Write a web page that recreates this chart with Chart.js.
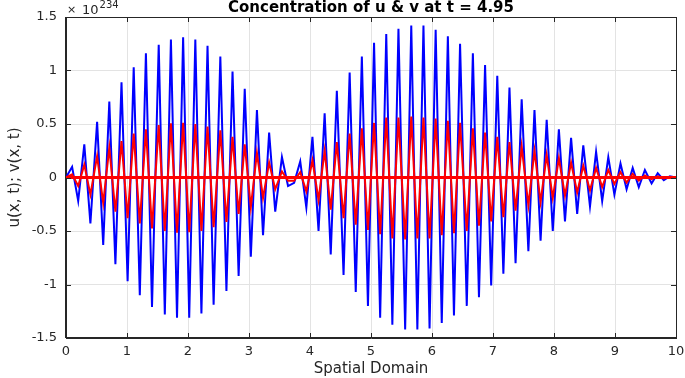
<!DOCTYPE html>
<html><head><meta charset="utf-8">
<script src="https://cdn.jsdelivr.net/npm/chart.js@4.4.1/dist/chart.umd.min.js"></script>
<style>html,body{margin:0;padding:0;background:#fff;}canvas{display:block;}</style>
</head><body>
<canvas id="c" width="685" height="378"></canvas>
<script>
const xValues = [0,0.10,0.20,0.30,0.40,0.51,0.61,0.71,0.81,0.91,1.01,1.11,1.21,1.31,1.41,1.52,1.62,1.72,1.82,1.92,2.02,2.12,2.22,2.32,2.42,2.53,2.63,2.73,2.83,2.93,3.03,3.13,3.23,3.33,3.43,3.54,3.64,3.74,3.84,3.94,4.04,4.14,4.24,4.34,4.44,4.55,4.65,4.75,4.85,4.95,5.05,5.15,5.25,5.35,5.45,5.56,5.66,5.76,5.86,5.96,6.06,6.16,6.26,6.36,6.46,6.57,6.67,6.77,6.87,6.97,7.07,7.17,7.27,7.37,7.47,7.58,7.68,7.78,7.88,7.98,8.08,8.18,8.28,8.38,8.48,8.59,8.69,8.79,8.89,8.99,9.09,9.19,9.29,9.39,9.49,9.60,9.70,9.80,9.90,10];
const uValues = [0,0.10,-0.22,0.31,-0.43,0.52,-0.63,0.71,-0.81,0.89,-0.97,1.03,-1.10,1.16,-1.21,1.24,-1.28,1.29,-1.31,1.31,-1.31,1.29,-1.27,1.23,-1.19,1.13,-1.06,0.99,-0.92,0.83,-0.74,0.63,-0.54,0.42,-0.32,0.19,-0.08,-0.05,0.15,-0.28,0.38,-0.50,0.60,-0.72,0.81,-0.91,0.98,-1.07,1.13,-1.20,1.26,-1.31,1.34,-1.375,1.39,-1.42,1.42,-1.42,1.42,-1.41,1.38,-1.36,1.32,-1.29,1.25,-1.20,1.16,-1.12,1.05,-1.01,0.95,-0.90,0.84,-0.80,0.73,-0.69,0.63,-0.59,0.54,-0.50,0.45,-0.41,0.37,-0.34,0.30,-0.27,0.24,-0.22,0.19,-0.16,0.13,-0.11,0.09,-0.09,0.07,-0.056,0.04,-0.025,0.012,0];
const vValues = [0,0.03,-0.08,0.12,-0.16,0.20,-0.24,0.28,-0.32,0.34,-0.38,0.41,-0.43,0.45,-0.475,0.49,-0.50,0.506,-0.515,0.51,-0.51,0.50,-0.50,0.475,-0.465,0.44,-0.415,0.38,-0.34,0.31,-0.28,0.23,-0.19,0.14,-0.11,0.056,-0.03,-0.03,0.05,-0.13,0.16,-0.21,0.25,-0.30,0.33,-0.38,0.41,-0.44,0.46,-0.49,0.51,-0.53,0.56,-0.57,0.56,-0.58,0.57,-0.57,0.56,-0.57,0.55,-0.54,0.53,-0.52,0.51,-0.50,0.46,-0.45,0.42,-0.41,0.38,-0.37,0.33,-0.31,0.29,-0.26,0.25,-0.23,0.21,-0.19,0.18,-0.17,0.14,-0.14,0.11,-0.12,0.09,-0.09,0.07,-0.06,0.05,-0.047,0.035,-0.03,0.02,-0.015,0.01,-0.01,0.005,0];
const baselineX = [0, 10];
const baselineY = [0, 0];
const xTickValues = [0,1,2,3,4,5,6,7,8,9,10];
const xTickLabels = ['0','1','2','3','4','5','6','7','8','9','10'];
const yTickValues = [-1.5,-1,-0.5,0,0.5,1,1.5];
const yTickLabels = ['-1.5','-1','-0.5','0','0.5','1','1.5'];
const chartTitle = 'Concentration of u & v at t = 4.95';
const xTitle = 'Spatial Domain';
const yTitle = 'u(x, t); v(x, t)';
const exponentBase = '10';
const exponentPower = '234';

const FONT = "'DejaVu Sans', 'Liberation Sans', sans-serif";
const AXC = '#262626';

const pts = (xs, ys) => xs.map((x, i) => ({x: x, y: ys[i]}));

const decor = {
  id: 'decor',
  afterDraw(chart) {
    const ctx = chart.ctx, a = chart.chartArea;
    const xs = chart.scales.x, ys = chart.scales.y;
    ctx.save();
    ctx.strokeStyle = AXC; ctx.lineWidth = 1;
    ctx.strokeRect(Math.round(a.left) - 0.5, Math.round(a.top) + 0.5, Math.round(a.right - a.left) + 1, Math.round(a.bottom - a.top) - 1);
    ctx.beginPath();
    const L = 5;
    xTickValues.forEach(v => {
      const p = Math.round(xs.getPixelForValue(v)) + 0.5;
      ctx.moveTo(p, a.bottom); ctx.lineTo(p, a.bottom - L);
      ctx.moveTo(p, a.top); ctx.lineTo(p, a.top + L);
    });
    yTickValues.forEach(v => {
      const p = Math.round(ys.getPixelForValue(v)) + 0.5;
      ctx.moveTo(a.left, p); ctx.lineTo(a.left + L, p);
      ctx.moveTo(a.right, p); ctx.lineTo(a.right - L, p);
    });
    ctx.stroke();
    ctx.fillStyle = '#000';
    ctx.font = 'bold 15px ' + FONT;
    ctx.textAlign = 'center'; ctx.textBaseline = 'middle';
    ctx.fillText(chartTitle, (a.left + a.right) / 2, 8);
    ctx.fillStyle = AXC;
    ctx.textAlign = 'left'; ctx.textBaseline = 'alphabetic';
    ctx.font = '11px ' + FONT;
    ctx.fillText('\u00d7', a.left + 1, 13);
    ctx.font = '13px ' + FONT;
    ctx.fillText(exponentBase, a.left + 16, 14);
    const w = ctx.measureText(exponentBase).width;
    ctx.font = '10px ' + FONT;
    ctx.fillText(exponentPower, a.left + 16 + w + 1, 8);
    ctx.restore();
  }
};

new Chart(document.getElementById('c'), {
  type: 'line',
  data: {
    datasets: [
      {label: 'zero', data: pts(baselineX, baselineY), borderColor: '#ff0000', borderWidth: 3, order: 0},
      {label: 'v', data: pts(xValues, vValues), borderColor: '#ff0000', borderWidth: 2, order: 1},
      {label: 'u', data: pts(xValues, uValues), borderColor: '#0000ff', borderWidth: 2, order: 2}
    ]
  },
  options: {
    responsive: false,
    animation: false,
    devicePixelRatio: 1,
    layout: {padding: {top: 17, right: 9, left: 0, bottom: 0}},
    elements: {point: {radius: 0}, line: {tension: 0, borderJoinStyle: 'miter'}},
    plugins: {legend: {display: false}, tooltip: {enabled: false}, title: {display: false}},
    scales: {
      x: {
        type: 'linear', min: 0, max: 10,
        afterBuildTicks: s => { s.ticks = xTickValues.map(v => ({value: v})); },
        afterFit: s => { s.height = 40; s.paddingLeft = 0; s.paddingRight = 0; },
        ticks: {
          autoSkip: false, maxRotation: 0, padding: 6, color: AXC,
          font: {family: FONT, size: 13},
          callback: v => xTickLabels[xTickValues.indexOf(v)]
        },
        grid: {color: '#e3e3e3', drawTicks: false, lineWidth: 1},
        border: {color: AXC, display: true},
        title: {display: true, text: xTitle, color: AXC, font: {family: FONT, size: 15}, padding: {top: 0, bottom: 0}}
      },
      y: {
        type: 'linear', min: -1.5, max: 1.5,
        afterBuildTicks: s => { s.ticks = yTickValues.map(v => ({value: v})); },
        afterFit: s => { s.width = 66; s.paddingTop = 0; s.paddingBottom = 0; },
        ticks: {
          autoSkip: false, padding: 9, color: AXC,
          font: {family: FONT, size: 13},
          callback: v => yTickLabels[yTickValues.indexOf(v)]
        },
        grid: {color: '#e3e3e3', drawTicks: false, lineWidth: 1},
        border: {color: AXC, display: true},
        title: {display: true, text: yTitle, color: AXC, font: {family: FONT, size: 15}, padding: {top: 6, bottom: 0}}
      }
    }
  },
  plugins: [decor]
});
</script>
</body></html>
